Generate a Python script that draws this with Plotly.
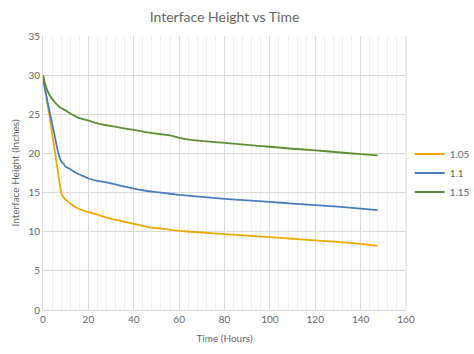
import plotly.graph_objects as go

# Series 1.05
t_105 = [0, 1, 2, 3, 4, 5, 6, 7, 8, 9, 10, 12, 14, 17, 20, 24, 28, 34, 40, 46, 52, 60, 70, 80, 90, 100, 110, 120, 130, 140, 147.5]
h_105 = [30.0, 28.2, 26.3, 24.5, 22.6, 20.7, 18.8, 16.8, 15.0, 14.4, 14.1, 13.6, 13.2, 12.8, 12.5, 12.2, 11.8, 11.4, 11.0, 10.6, 10.4, 10.1, 9.9, 9.7, 9.5, 9.3, 9.1, 8.9, 8.7, 8.45, 8.2]

# Series 1.1
t_11 = [0, 1, 2, 3, 4, 5, 6, 7, 8, 9, 10, 12, 14, 17, 20, 24, 28, 34, 40, 46, 52, 60, 70, 80, 90, 100, 110, 120, 130, 140, 147.5]
h_11 = [29.5, 28.1, 26.6, 25.2, 23.8, 22.5, 21.0, 19.8, 19.0, 18.7, 18.3, 18.0, 17.6, 17.2, 16.8, 16.5, 16.3, 15.9, 15.5, 15.2, 15.0, 14.7, 14.45, 14.2, 14.0, 13.8, 13.6, 13.4, 13.2, 12.95, 12.75]

# Series 1.15
t_115 = [0, 1, 2, 3, 4, 5, 6, 7, 8, 10, 12, 14, 16, 18, 20, 24, 28, 34, 40, 46, 52, 56, 60, 66, 72, 80, 90, 100, 110, 120, 130, 140, 147.5]
h_115 = [30.0, 28.8, 28.0, 27.4, 27.0, 26.6, 26.3, 26.0, 25.8, 25.5, 25.1, 24.8, 24.5, 24.35, 24.2, 23.85, 23.6, 23.3, 23.0, 22.7, 22.45, 22.3, 22.0, 21.7, 21.55, 21.35, 21.1, 20.85, 20.6, 20.4, 20.15, 19.9, 19.75]

series_names = ["1.05", "1.1", "1.15"]
series_colors = ["#EDAA00", "#4A7EBB", "#5E8E33"]

fig = go.Figure()
for name, tx, hy, col in zip(series_names, [t_105, t_11, t_115], [h_105, h_11, h_115], series_colors):
    fig.add_trace(go.Scatter(x=tx, y=hy, mode="lines", name=name,
                             line=dict(color=col, width=1.8, shape="spline", smoothing=0.3)))

font_family = "Lato, Open Sans, Liberation Sans, sans-serif"
grid = "#d9d9d9"
txt = "#666666"

fig.update_layout(
    width=474, height=354,
    margin=dict(l=43, r=68, t=36, b=44, autoexpand=False),
    paper_bgcolor="white", plot_bgcolor="white",
    font=dict(family=font_family, color=txt, size=10),
    title=dict(text="Interface Height vs Time", x=0.5, xref="paper", y=0.953, yanchor="middle",
               font=dict(size=14, color=txt, family=font_family)),
    legend=dict(x=1.01, y=0.5, xanchor="left", yanchor="middle",
                font=dict(size=10, color=txt), tracegroupgap=0, itemwidth=30,
                bgcolor="rgba(0,0,0,0)"),
    xaxis=dict(range=[0, 160], dtick=20, tick0=0, showgrid=True, gridcolor=grid, gridwidth=1,
               zeroline=False, showline=True, linecolor=grid, linewidth=1, mirror=False,
               ticks="", tickfont=dict(size=10, color=txt),
               minor=dict(dtick=4, showgrid=True, gridcolor="#efefef", gridwidth=1),
               title=dict(text="Time (Hours)", font=dict(size=10, color=txt), standoff=10)),
    yaxis=dict(range=[0, 35], dtick=5, tick0=0, showgrid=True, gridcolor=grid, gridwidth=1,
               zeroline=False, showline=True, linecolor=grid, linewidth=1,
               ticks="", tickfont=dict(size=10, color=txt),
               title=dict(text="Interface Height (Inches)", font=dict(size=10, color=txt), standoff=6)),
)
fig.add_shape(type="line", xref="paper", yref="paper", x0=1, x1=1, y0=0, y1=1,
              line=dict(color=grid, width=1))

fig.write_html("out.html")
